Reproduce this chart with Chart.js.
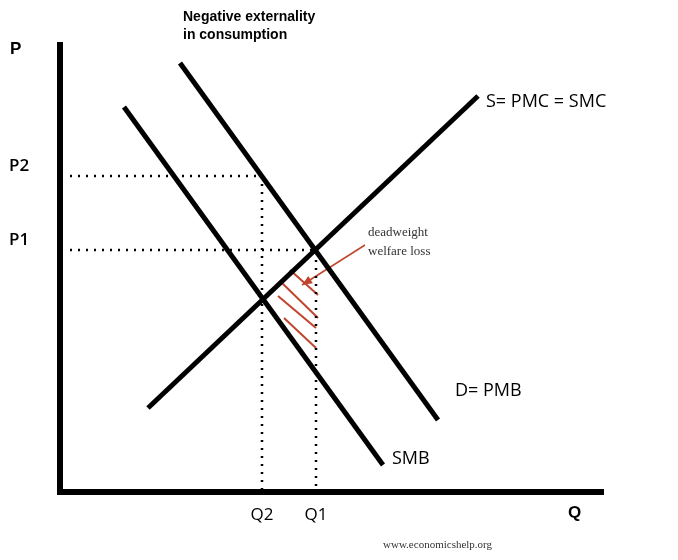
<!DOCTYPE html>
<html>
<head>
<meta charset="utf-8">
<script src="https://cdn.jsdelivr.net/npm/chart.js@4/dist/chart.umd.min.js"></script>
<style>
  html, body { margin: 0; padding: 0; background: #fff; }
  #wrap { width: 678px; height: 560px; }
</style>
</head>
<body>
<div id="wrap"><canvas id="chart"></canvas></div>
<script>
// quantities / prices measured from the axes origin
const supplyLine = [{x: 88, y: 84}, {x: 418, y: 396}];
const demandLine = [{x: 120, y: 429}, {x: 378, y: 72}];
const smbLine = [{x: 64, y: 385}, {x: 323, y: 27}];
const p2Guide = [{x: 10, y: 316}, {x: 202, y: 316}, {x: 202, y: 0}];
const p1Guide = [{x: 10, y: 242}, {x: 256, y: 242}, {x: 256, y: 0}];
const hatchLines = [
  [{x: 230, y: 222}, {x: 258, y: 197}],
  [{x: 222, y: 209}, {x: 258, y: 174}],
  [{x: 218, y: 196}, {x: 256, y: 164}],
  [{x: 224, y: 174}, {x: 256, y: 144}]
];
const arrowLine = [{x: 305, y: 247}, {x: 242, y: 207}];
const yTickNames = ['P2', 'P1'];
const yTickValues = [316, 242];
const xTickNames = ['Q2', 'Q1'];
const xTickValues = [202, 256];

const black = '#000';
const red = '#c0452e';

const lineSet = (data, extra) => Object.assign({
  data, showLine: true, pointRadius: 0, borderColor: black, borderWidth: 5,
  borderCapStyle: 'butt', fill: false
}, extra);

const datasets = [
  lineSet([{x: 0, y: 450}, {x: 0, y: 0}, {x: 544, y: 0}], {borderWidth: 6}),
  lineSet(supplyLine),
  lineSet(demandLine),
  lineSet(smbLine),
  lineSet(p2Guide, {borderWidth: 2.5, borderDash: [2, 6]}),
  lineSet(p1Guide, {borderWidth: 2.5, borderDash: [2, 6]}),
  ...hatchLines.map(h => lineSet(h, {borderColor: red, borderWidth: 2})),
  lineSet(arrowLine, {borderColor: red, borderWidth: 1.5})
];

const labelsPlugin = {
  id: 'labels',
  afterDatasetsDraw(chart) {
    const {ctx, scales: {x, y}} = chart;
    const px = v => x.getPixelForValue(v);
    const py = v => y.getPixelForValue(v);
    ctx.save();
    ctx.fillStyle = black;
    ctx.textBaseline = 'alphabetic';
    ctx.font = 'bold 14px "Liberation Sans", Arial';
    ctx.fillText('Negative externality', 183, 21);
    ctx.fillText('in consumption', 183, 39);
    ctx.font = 'bold 17px "Liberation Sans", Arial';
    ctx.fillText('P', 10, 54);
    ctx.fillText('Q', 568, 518);
    ctx.font = '600 17px "Open Sans", "Liberation Sans"';
    yTickNames.forEach((t, i) => ctx.fillText(t, 9, py(yTickValues[i]) - 5));
    ctx.font = '17px "Open Sans", "Liberation Sans"';
    ctx.textAlign = 'center';
    xTickNames.forEach((t, i) => ctx.fillText(t, px(xTickValues[i]), 520));
    ctx.textAlign = 'left';
    ctx.font = '18px "Open Sans", "Liberation Sans"';
    ctx.fillText('S= PMC = SMC', 486, 107);
    ctx.fillText('D= PMB', 455, 396);
    ctx.fillText('SMB', 392, 464);
    ctx.fillStyle = '#333';
    ctx.font = '13px "Liberation Serif", serif';
    ctx.fillText('deadweight', 368, 236);
    ctx.fillText('welfare loss', 368, 255);
    ctx.font = '11px "Liberation Serif", serif';
    ctx.fillText('www.economicshelp.org', 383, 548);
    // arrow head
    const ax = px(arrowLine[1].x), ay = py(arrowLine[1].y);
    const bx = px(arrowLine[0].x), by = py(arrowLine[0].y);
    const a = Math.atan2(ay - by, ax - bx);
    ctx.fillStyle = red;
    ctx.beginPath();
    ctx.moveTo(ax, ay);
    ctx.lineTo(ax - 11 * Math.cos(a - 0.4), ay - 11 * Math.sin(a - 0.4));
    ctx.lineTo(ax - 11 * Math.cos(a + 0.4), ay - 11 * Math.sin(a + 0.4));
    ctx.closePath();
    ctx.fill();
    ctx.restore();
  }
};

new Chart(document.getElementById('chart'), {
  type: 'scatter',
  data: { datasets },
  options: {
    responsive: true,
    maintainAspectRatio: false,
    animation: false,
    layout: { padding: 0 },
    plugins: { legend: { display: false }, tooltip: { enabled: false } },
    scales: {
      x: { type: 'linear', min: -60, max: 618, display: false },
      y: { type: 'linear', min: -68, max: 492, display: false }
    }
  },
  plugins: [labelsPlugin]
});
</script>
</body>
</html>
